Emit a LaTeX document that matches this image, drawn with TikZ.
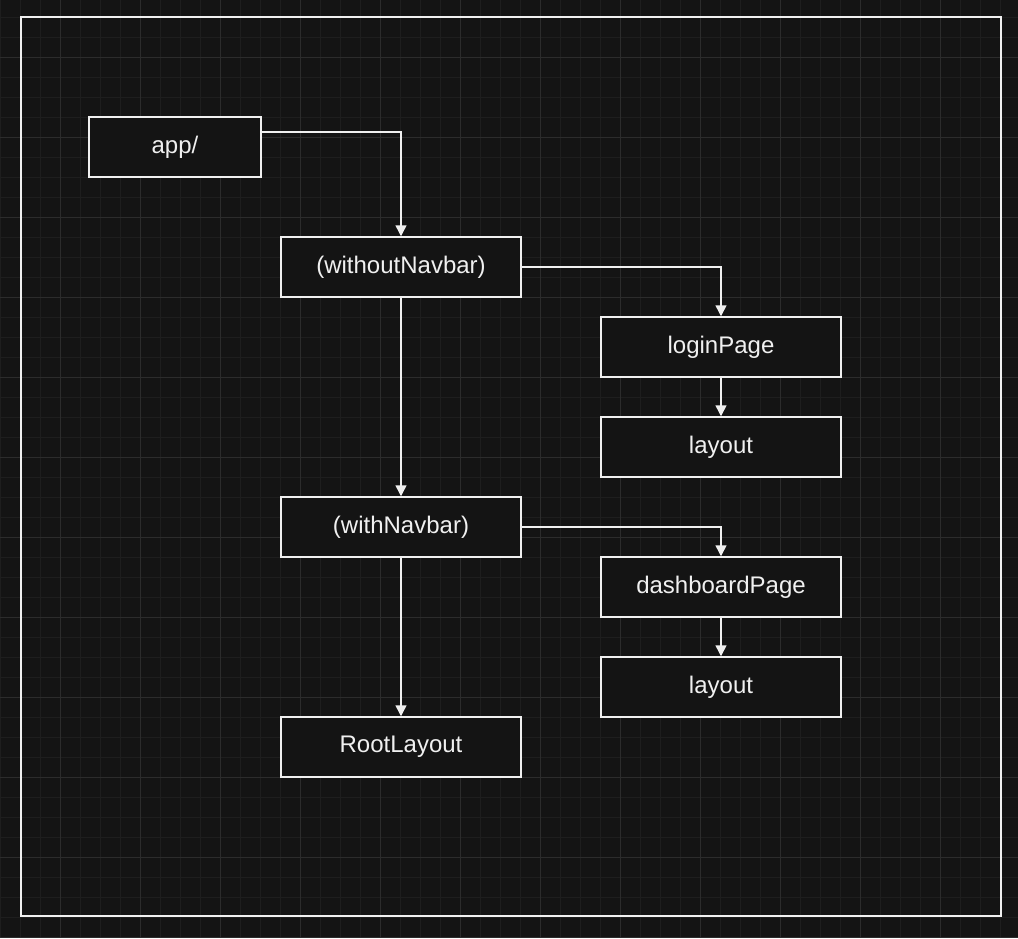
\documentclass[tikz,border=0pt]{standalone}
\usepackage{fontspec}
\setmainfont{Liberation Sans}
\usetikzlibrary{arrows.meta}
\definecolor{bg}{HTML}{141414}
\definecolor{minorg}{HTML}{1E1E1E}
\definecolor{majorg}{HTML}{2C2C2C}
\definecolor{fg}{HTML}{F0F0F0}
\begin{document}
\begin{tikzpicture}[x=1pt,y=-1pt,
  box/.style={draw=fg,fill=bg,line width=1.5pt,minimum width=240pt,minimum height=60pt,inner sep=0pt,text=fg,font=\fontsize{24}{28}\selectfont},
  conn/.style={draw=fg,line width=1.5pt,-{Triangle[length=11pt,width=11pt]}}]
\fill[bg] (0,0) rectangle (1018,938);
\useasboundingbox (0,0) rectangle (1018,938);
\foreach \x in {0,20,...,1018} \draw[minorg,line width=1pt] (\x,0) -- (\x,938);
\foreach \y in {17,37,...,938} \draw[minorg,line width=1pt] (0,\y) -- (1018,\y);
\foreach \x in {60,140,...,1018} \draw[majorg,line width=1pt] (\x,0) -- (\x,938);
\foreach \y in {57,137,...,938} \draw[majorg,line width=1pt] (0,\y) -- (1018,\y);
\draw[fg,line width=2pt] (21,17) rectangle (1001,916);
\node[box,minimum width=172pt] (app) at (175,147) {app/};
\node[box] (wo) at (401,267) {(withoutNavbar)};
\node[box] (login) at (721,347) {loginPage};
\node[box] (lay1) at (721,447) {layout};
\node[box] (wn) at (401,527) {(withNavbar)};
\node[box] (dash) at (721,587) {dashboardPage};
\node[box] (lay2) at (721,687) {layout};
\node[box] (root) at (401,747) {RootLayout};
\draw[conn] ([yshift=15pt]app.east) -| (wo.north);
\draw[conn] (wo.east) -| (login.north);
\draw[conn] (login) -- (lay1);
\draw[conn] (wo) -- (wn);
\draw[conn] (wn.east) -| (dash.north);
\draw[conn] (dash) -- (lay2);
\draw[conn] (wn) -- (root);
\end{tikzpicture}
\end{document}
